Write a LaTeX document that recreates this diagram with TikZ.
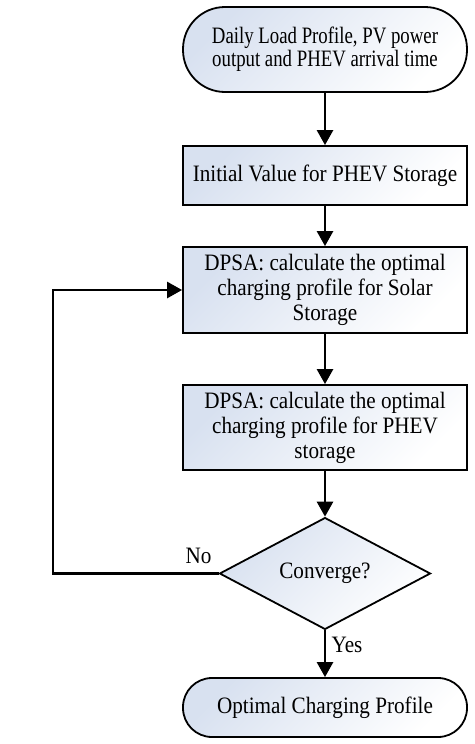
\documentclass[tikz,border=0pt]{standalone}
\usepackage{fontspec}
\setmainfont[FakeStretch=0.9]{Liberation Serif}
\newfontfamily\condfont[FakeStretch=0.8]{Liberation Serif}
\usetikzlibrary{shapes.geometric,arrows.meta}
\definecolor{fillblue}{RGB}{216,225,240}
\begin{document}
\begin{tikzpicture}[x=1pt,y=1pt,
  base/.style={draw=black, line width=1.8pt, top color=fillblue, bottom color=white, shading angle=45, font=\fontsize{23.5}{25}\selectfont, align=center, inner sep=2pt},
  procbox/.style={base, rectangle, minimum width=284pt},
  term/.style={base, rectangle, minimum width=284pt},
  decide/.style={base, diamond, minimum width=211pt, minimum height=103pt, inner sep=0pt},
  flow/.style={line width=2.6pt, -{Triangle[length=15pt,width=16pt]}},
  lbl/.style={font=\fontsize{23.5}{25}\selectfont, inner sep=0pt}
]
\useasboundingbox[fill=white] (0,0) rectangle (474,-744);
\node[term, minimum height=85pt, rounded corners=42pt, font=\condfont\fontsize{23.5}{23}\selectfont] (start) at (325,-49.5) {Daily Load Profile, PV power\\output and PHEV arrival time};
\node[procbox, minimum height=59pt] (init) at (325,-175.5) {Initial Value for PHEV Storage};
\node[procbox, minimum height=86pt] (solar) at (325,-290) {DPSA: calculate the optimal\\charging profile for Solar\\Storage};
\node[procbox, minimum height=85pt] (phev) at (325,-427.5) {DPSA: calculate the optimal\\charging profile for PHEV\\storage};
\node[decide] (conv) at (325,-573.5) {Converge?};
\node[term, minimum height=59pt, rounded corners=29pt] (final) at (325,-707.5) {Optimal Charging Profile};
\coordinate (loopA) at (53,-573.5);
\coordinate (loopB) at (53,-290);
\draw[flow] (start) -- (init);
\draw[flow] (init) -- (solar);
\draw[flow] (solar) -- (phev);
\draw[flow] (phev) -- (conv);
\draw[flow] (conv) -- (final);
\draw[flow] (conv.west) -- (loopA) -- (loopB) -- (solar.west);
\node[lbl, anchor=base] (no) at (198.5,-563) {No};
\node[lbl, anchor=base] (yes) at (347,-652) {Yes};
\end{tikzpicture}
\end{document}
